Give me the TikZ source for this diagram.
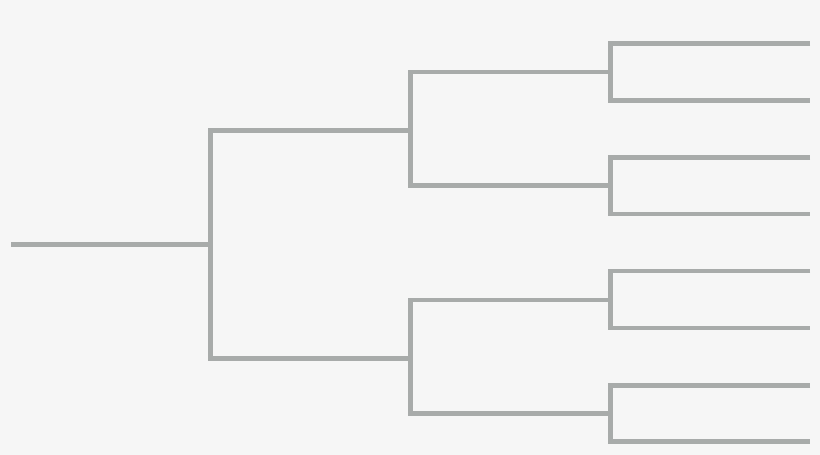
\documentclass[tikz,border=0pt]{standalone}
\usetikzlibrary{calc}
\definecolor{bg}{HTML}{F6F6F6}
\definecolor{wire}{HTML}{A8ABAA}
\begin{document}
\begin{tikzpicture}[x=1pt, y=-1pt, branch/.style = {draw=wire, line width=4.6pt, line join=miter, line cap=butt}]
    \fill[bg] (0,0) rectangle (820,455);
    \useasboundingbox (0,0) rectangle (820,455);
    % rounds
    \coordinate (0) at (11,244.5);
    \coordinate (1) at (210.5,130.5);
    \coordinate (2) at (210.5,358.5);
    \coordinate (11) at (410.3,72);
    \coordinate (12) at (410.3,185.7);
    \coordinate (21) at (410.3,300);
    \coordinate (22) at (410.3,413.5);
    \coordinate (111) at (610.5,43.5);
    \coordinate (112) at (610.5,100.3);
    \coordinate (121) at (610.5,157.3);
    \coordinate (122) at (610.5,214);
    \coordinate (211) at (610.5,271);
    \coordinate (212) at (610.5,328);
    \coordinate (221) at (610.5,385.3);
    \coordinate (222) at (610.5,441.7);
    \draw[branch] (0) -- (0 -| 1);
    \draw[branch] (1 -| 11) -- (1) -- (2) -- (2 -| 21);
    \draw[branch] (11 -| 111) -- (11) -- (12) -- (12 -| 121);
    \draw[branch] (21 -| 211) -- (21) -- (22) -- (22 -| 221);
    \draw[branch] ($(111)+(199.5,0)$) -- (111) -- (112) -- ($(112)+(199.5,0)$);
    \draw[branch] ($(121)+(199.5,0)$) -- (121) -- (122) -- ($(122)+(199.5,0)$);
    \draw[branch] ($(211)+(199.5,0)$) -- (211) -- (212) -- ($(212)+(199.5,0)$);
    \draw[branch] ($(221)+(199.5,0)$) -- (221) -- (222) -- ($(222)+(199.5,0)$);
\end{tikzpicture}
\end{document}
